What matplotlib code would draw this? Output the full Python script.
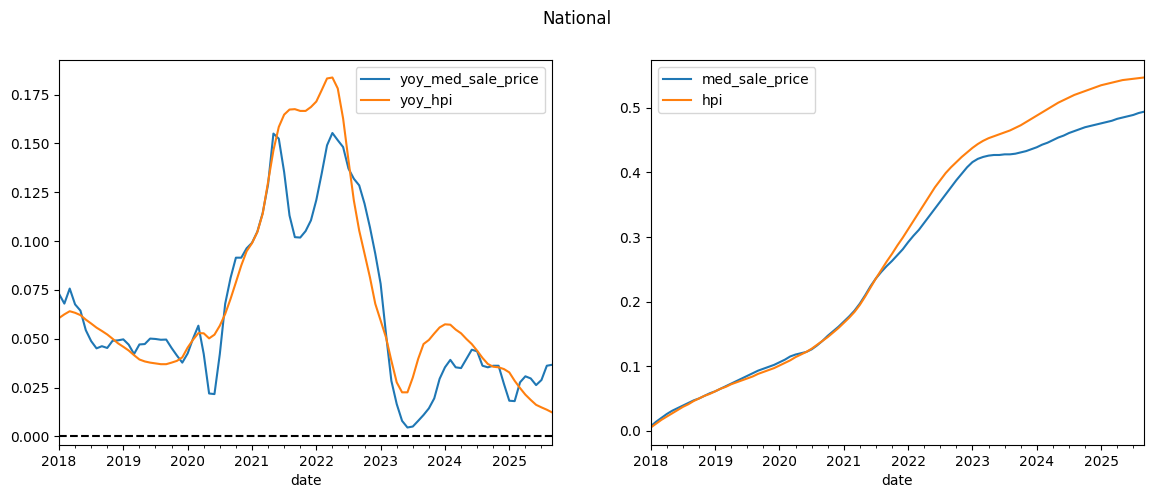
import numpy as np
import pandas as pd
import matplotlib
matplotlib.use("Agg")
import matplotlib.pyplot as plt

# monthly, 2018-01 .. 2025-09
dates = pd.date_range("2018-01-01", "2025-09-01", freq="MS", name="date")

yoy_med_sale_price = [
    0.0730, 0.0680, 0.0757, 0.0676, 0.0644, 0.0544, 0.0488, 0.0451, 0.0462, 0.0453, 0.0490, 0.0492,
    0.0497, 0.0470, 0.0422, 0.0471, 0.0473, 0.0501, 0.0499, 0.0495, 0.0496, 0.0453, 0.0414, 0.0378,
    0.0425, 0.0501, 0.0567, 0.0422, 0.0220, 0.0217, 0.0422, 0.0679, 0.0811, 0.0915, 0.0915, 0.0963,
    0.0991, 0.1048, 0.1144, 0.1290, 0.1550, 0.1524, 0.1353, 0.1131, 0.1020, 0.1018, 0.1051, 0.1106,
    0.1210, 0.1345, 0.1490, 0.1553, 0.1516, 0.1481, 0.1371, 0.1319, 0.1285, 0.1191, 0.1071, 0.0935,
    0.0781, 0.0525, 0.0285, 0.0166, 0.0080, 0.0046, 0.0051, 0.0080, 0.0110, 0.0144, 0.0195, 0.0295,
    0.0354, 0.0392, 0.0354, 0.0350, 0.0397, 0.0444, 0.0436, 0.0362, 0.0354, 0.0362, 0.0362, 0.0269,
    0.0183, 0.0181, 0.0277, 0.0308, 0.0297, 0.0263, 0.0289, 0.0362, 0.0367,
]

yoy_hpi = [
    0.0606, 0.0625, 0.0641, 0.0633, 0.0621, 0.0598, 0.0578, 0.0557, 0.0540, 0.0522, 0.0500, 0.0477,
    0.0459, 0.0440, 0.0416, 0.0394, 0.0384, 0.0378, 0.0374, 0.0370, 0.0370, 0.0378, 0.0387, 0.0405,
    0.0455, 0.0495, 0.0529, 0.0528, 0.0502, 0.0521, 0.0567, 0.0627, 0.0704, 0.0789, 0.0875, 0.0948,
    0.0989, 0.1046, 0.1140, 0.1302, 0.1464, 0.1584, 0.1647, 0.1673, 0.1675, 0.1666, 0.1666, 0.1686,
    0.1714, 0.1772, 0.1832, 0.1837, 0.1781, 0.1627, 0.1413, 0.1208, 0.1054, 0.0935, 0.0815, 0.0679,
    0.0593, 0.0507, 0.0388, 0.0277, 0.0226, 0.0226, 0.0302, 0.0397, 0.0473, 0.0494, 0.0527, 0.0558,
    0.0574, 0.0572, 0.0547, 0.0528, 0.0499, 0.0473, 0.0439, 0.0402, 0.0371, 0.0357, 0.0354, 0.0345,
    0.0328, 0.0285, 0.0248, 0.0214, 0.0187, 0.0162, 0.0149, 0.0137, 0.0123,
]

med_sale_price = [
    0.007, 0.014, 0.020, 0.026, 0.031, 0.035, 0.039, 0.043, 0.047, 0.050, 0.054, 0.058,
    0.061, 0.065, 0.069, 0.073, 0.077, 0.081, 0.085, 0.089, 0.093, 0.096, 0.099, 0.102,
    0.106, 0.110, 0.115, 0.118, 0.120, 0.122, 0.126, 0.132, 0.139, 0.147, 0.154, 0.161,
    0.169, 0.177, 0.186, 0.197, 0.210, 0.224, 0.236, 0.246, 0.255, 0.263, 0.272, 0.281,
    0.292, 0.302, 0.311, 0.322, 0.333, 0.344, 0.355, 0.366, 0.377, 0.388, 0.398, 0.408,
    0.416, 0.421, 0.424, 0.426, 0.427, 0.427, 0.428, 0.428, 0.429, 0.431, 0.433, 0.436,
    0.439, 0.443, 0.446, 0.450, 0.454, 0.457, 0.461, 0.464, 0.467, 0.470, 0.472, 0.474,
    0.476, 0.478, 0.480, 0.483, 0.485, 0.487, 0.489, 0.492, 0.494,
]

hpi = [
    0.005, 0.011, 0.017, 0.022, 0.027, 0.032, 0.037, 0.041, 0.046, 0.050, 0.054, 0.057,
    0.061, 0.065, 0.068, 0.072, 0.075, 0.078, 0.081, 0.084, 0.088, 0.091, 0.094, 0.097,
    0.101, 0.105, 0.109, 0.114, 0.118, 0.122, 0.127, 0.133, 0.139, 0.145, 0.152, 0.159,
    0.167, 0.175, 0.184, 0.195, 0.208, 0.222, 0.236, 0.249, 0.262, 0.274, 0.287, 0.299,
    0.312, 0.325, 0.338, 0.351, 0.364, 0.377, 0.388, 0.399, 0.408, 0.416, 0.424, 0.431,
    0.438, 0.444, 0.449, 0.453, 0.456, 0.459, 0.462, 0.465, 0.469, 0.473, 0.478, 0.483,
    0.488, 0.493, 0.498, 0.503, 0.508, 0.512, 0.516, 0.520, 0.523, 0.526, 0.529, 0.532,
    0.535, 0.537, 0.539, 0.541, 0.543, 0.544, 0.545, 0.546, 0.547,
]

yoy = pd.DataFrame({"yoy_med_sale_price": yoy_med_sale_price, "yoy_hpi": yoy_hpi}, index=dates)
cum = pd.DataFrame({"med_sale_price": med_sale_price, "hpi": hpi}, index=dates)

fig, axes = plt.subplots(1, 2, figsize=(11.54, 4.98), dpi=100)
fig.subplots_adjust(left=59 / 1154, right=1144 / 1154, bottom=53 / 498, top=438 / 498, wspace=0.2)

yoy.plot(ax=axes[0])
ylim = axes[0].get_ylim()
axes[0].axhline(0, color="black", linestyle="--")
axes[0].set_ylim(ylim)
axes[0].legend(loc="upper right")

cum.plot(ax=axes[1])
axes[1].legend(loc="upper left")

fig.suptitle("National")
fig.savefig("out.png", dpi=100)
